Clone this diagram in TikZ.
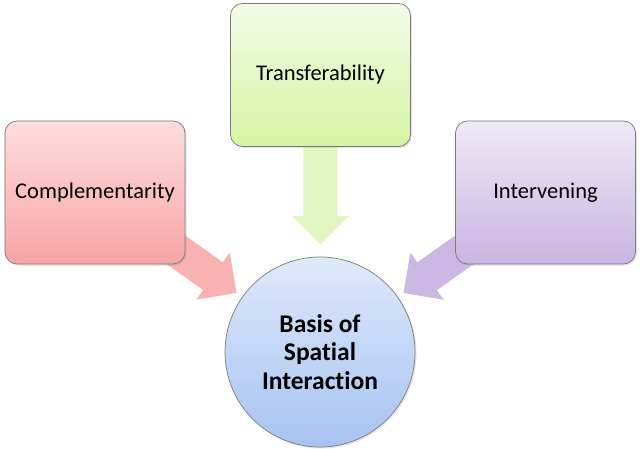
\documentclass[tikz,border=0pt]{standalone}
\usepackage{fontspec}
\setmainfont[RawFeature={-liga;-calt;-clig;-dlig}]{Carlito}
\usetikzlibrary{arrows.meta,shadows}
\definecolor{redTop}{HTML}{FDDDDD}
\definecolor{redBot}{HTML}{F8A4A4}
\definecolor{grnTop}{HTML}{F3FBE7}
\definecolor{grnBot}{HTML}{D4F4A2}
\definecolor{purTop}{HTML}{EFE9F6}
\definecolor{purBot}{HTML}{C8B5E2}
\definecolor{bluTop}{HTML}{DEE9FB}
\definecolor{bluBot}{HTML}{A6C3F1}
\definecolor{redArr}{HTML}{F8B2B2}
\definecolor{grnArr}{HTML}{E2F6C4}
\definecolor{purArr}{HTML}{CAB8E3}
\definecolor{edge}{HTML}{7A7A7A}
\tikzset{
  box/.style={rectangle, rounded corners=12bp, draw=edge, line width=0.7bp,
    minimum width=180bp, minimum height=143bp, inner sep=0pt,
    font=\fontsize{22.5bp}{27bp}\selectfont,
    drop shadow={opacity=0.22, shadow xshift=1.5bp, shadow yshift=-1.5bp}},
  hub/.style={circle, draw=edge, line width=0.7bp, minimum size=190bp, inner sep=0pt,
    top color=bluTop, bottom color=bluBot, align=center,
    font=\fontsize{25.5bp}{28.5bp}\selectfont\bfseries,
    drop shadow={opacity=0.22, shadow xshift=1.5bp, shadow yshift=-1.5bp}},
  blockarrow/.style={line width=34bp, line cap=butt,
    -{Triangle[width=56bp,length=29bp]}}
}
\begin{document}
\begin{tikzpicture}[x=1bp,y=-1bp]
\useasboundingbox (0,0) rectangle (640,449);
\fill[white] (0,0) rectangle (640,449);
\coordinate (redc) at (95,192.5);
\coordinate (grnc) at (320.5,75);
\coordinate (purc) at (545.5,192.5);
\coordinate (hubc) at (320,352);
% invisible copy of the hub, used as the arrows' target
\node[circle, minimum size=190bp, inner sep=0pt] (hubtmp) at (hubc) {};
\draw[blockarrow, draw=redArr, fill=redArr, shorten >=7bp] (redc) -- (hubtmp);
\draw[blockarrow, draw=grnArr, fill=grnArr, shorten >=12bp] (grnc) -- (hubtmp);
\draw[blockarrow, draw=purArr, fill=purArr, shorten >=7bp] (purc) -- (hubtmp);
% boxes
\node[box, top color=redTop, bottom color=redBot] (comp) at (redc) {Complementarity};
\node[box, top color=grnTop, bottom color=grnBot] (trans) at (grnc) {Transferability};
\node[box, top color=purTop, bottom color=purBot] (inter) at (purc) {Intervening};
\node[hub] (hub) at (hubc) {Basis of\\Spatial\\Interaction};
\end{tikzpicture}
\end{document}
